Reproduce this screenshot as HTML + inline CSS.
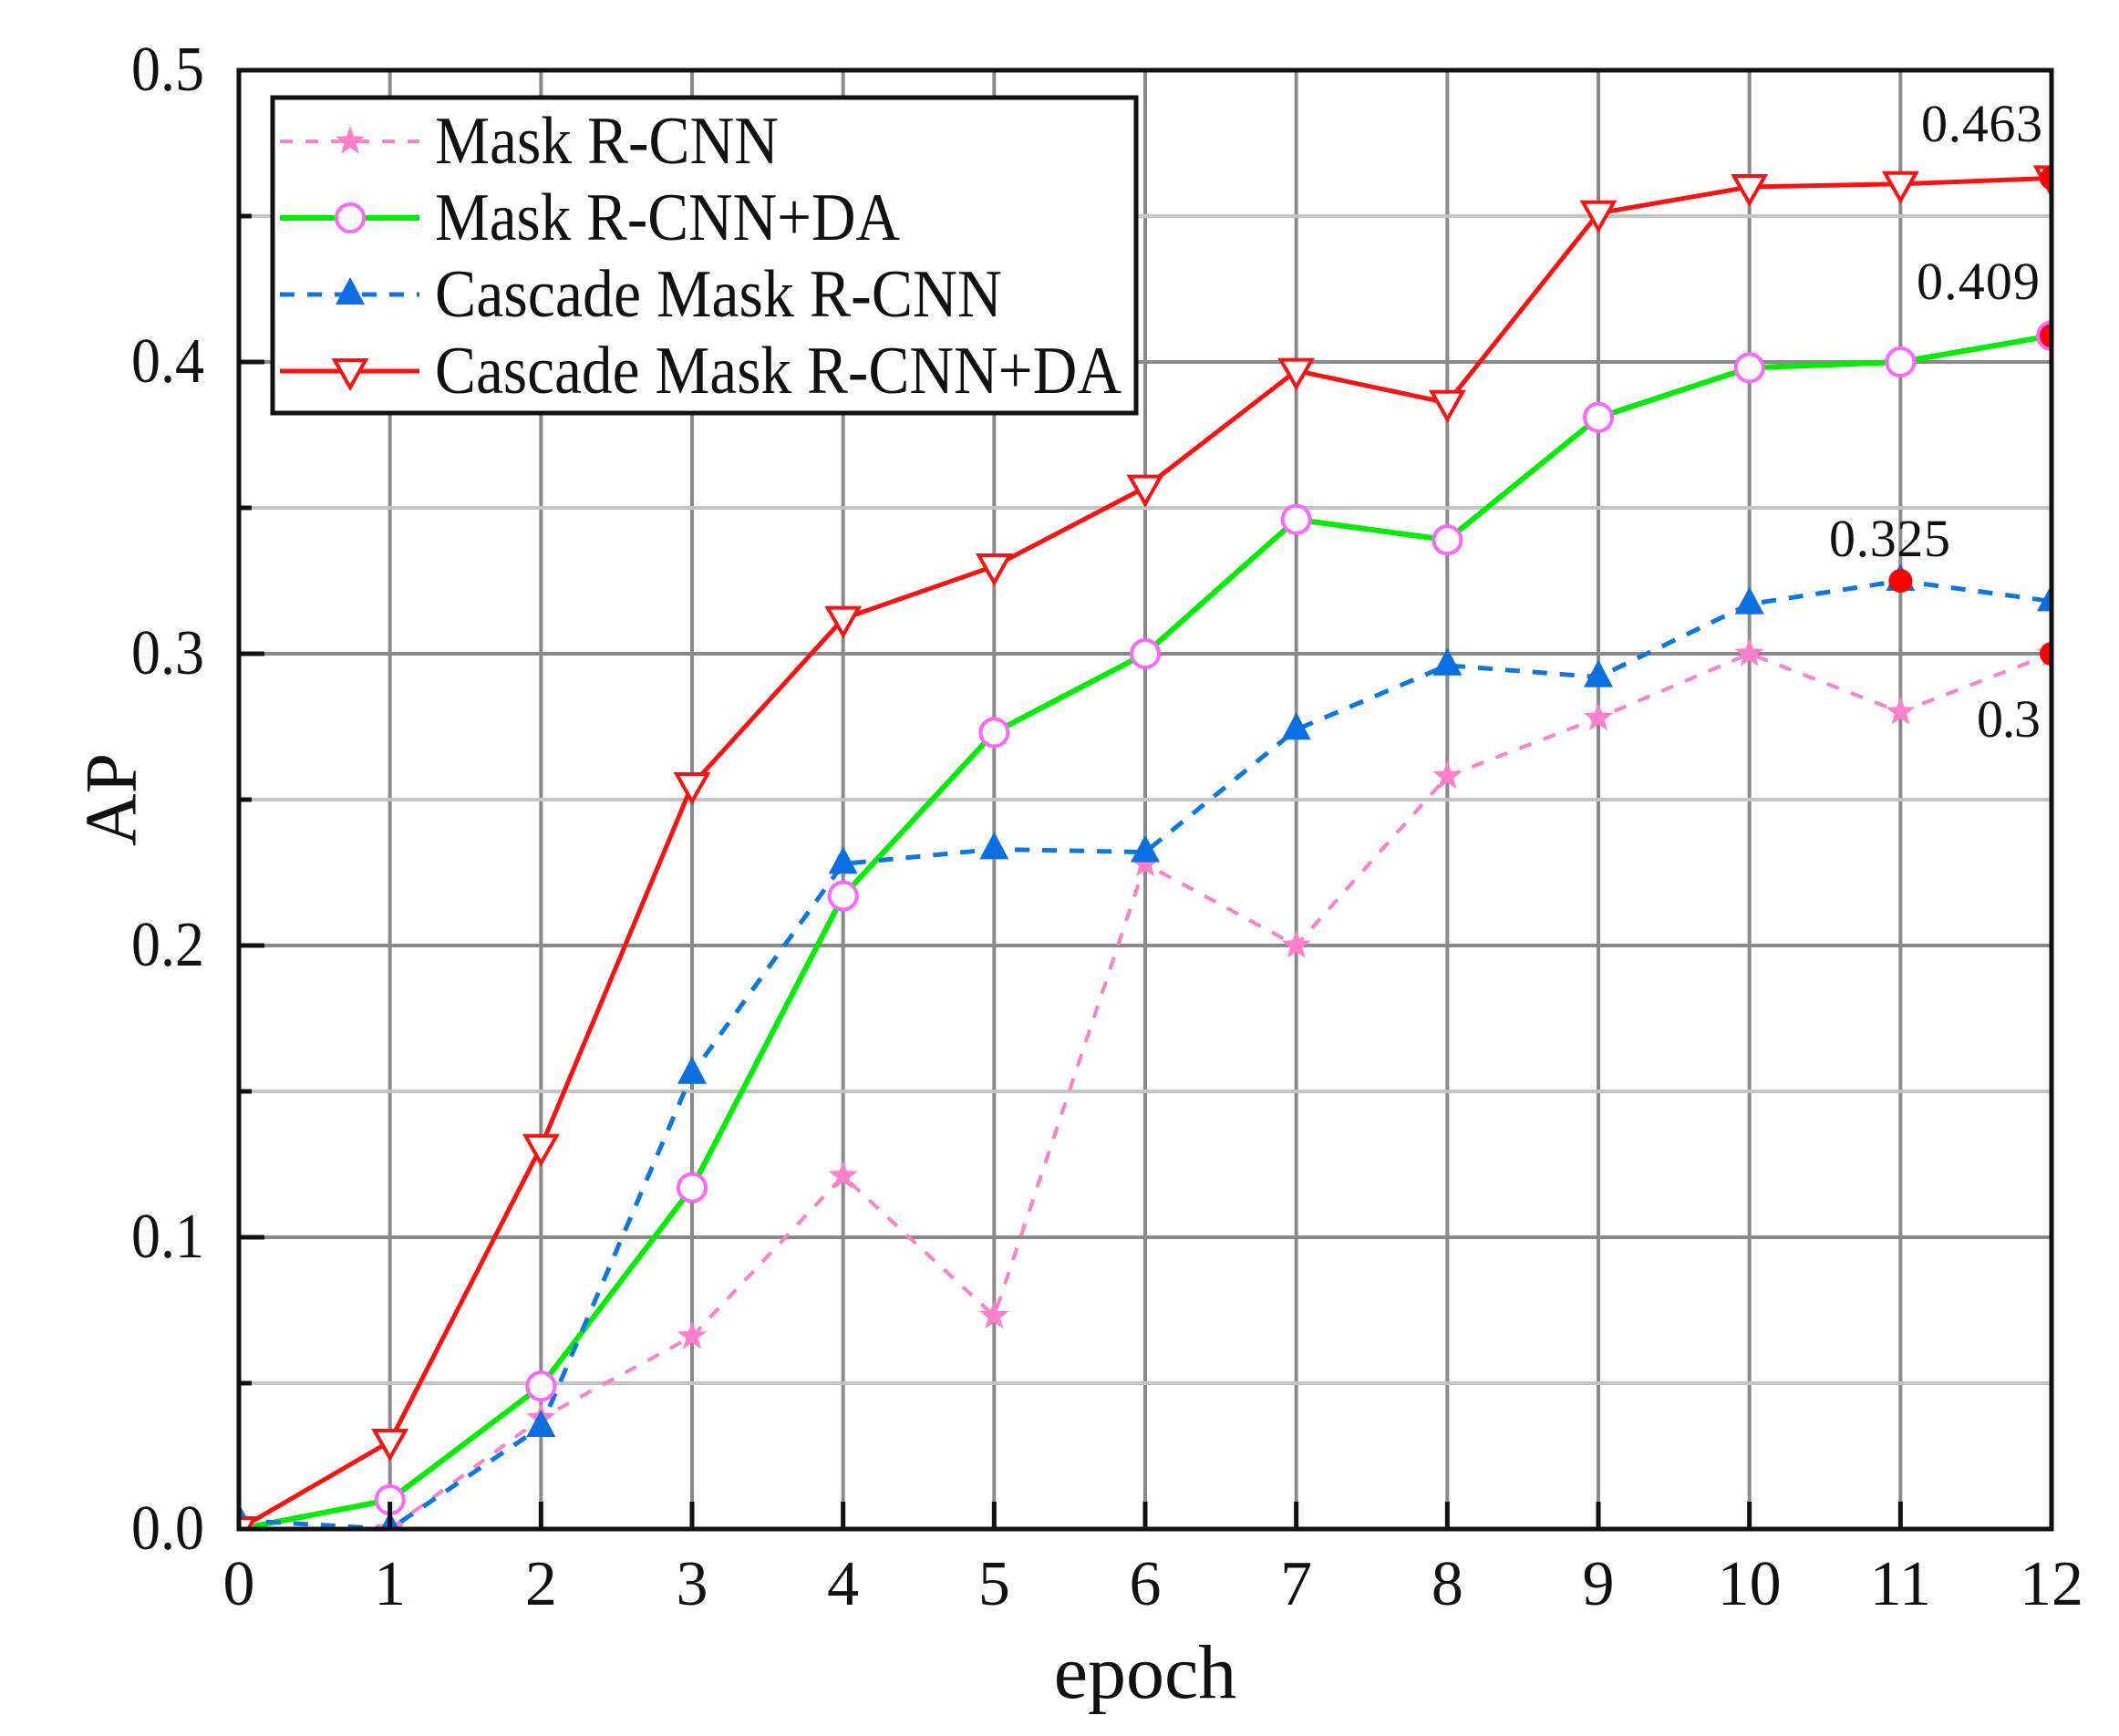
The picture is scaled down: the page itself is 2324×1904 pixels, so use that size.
<!DOCTYPE html>
<html><head><meta charset="utf-8"><style>
html,body{margin:0;padding:0;background:#fff;}
svg{display:block;}
text{font-family:"Liberation Serif",serif;fill:#111;}
</style></head><body>
<svg width="2324" height="1904" viewBox="0 0 2324 1904" xmlns="http://www.w3.org/2000/svg">
<defs>
<clipPath id="pc"><rect x="262" y="77" width="1988" height="1600"/></clipPath>
</defs>
<rect width="2324" height="1904" fill="#fff"/>
<g id="grid" stroke="#8a8a8a" stroke-width="4"></g>
<g id="series" clip-path="url(#pc)"></g>
<g id="legend"></g>
<rect x="262" y="77" width="1988" height="1600" fill="none" stroke="#111" stroke-width="5"/>
<g id="ticks" stroke="#111" stroke-width="5"></g>
<g id="labels" font-size="70"></g>
<text x="130" y="877" font-size="80" text-anchor="middle" transform="rotate(-90 130 877)" dominant-baseline="middle">AP</text>
<text x="1256" y="1862" font-size="84" text-anchor="middle">epoch</text>
<text x="2107" y="155" font-size="58" textLength="133">0.463</text>
<text x="2102" y="328" font-size="58" textLength="135">0.409</text>
<text x="2006" y="610" font-size="58" textLength="133">0.325</text>
<text x="2168" y="808" font-size="58" textLength="70">0.3</text>
<script>
const NS="http://www.w3.org/2000/svg";
const X=e=>262+e*1988/12, Y=v=>1677-v*3200;
function el(p,t,a){const e=document.createElementNS(NS,t);for(const k in a)e.setAttribute(k,a[k]);p.appendChild(e);return e;}
const grid=document.getElementById('grid'),ticks=document.getElementById('ticks'),labels=document.getElementById('labels');
for(let i=1;i<12;i++){el(grid,'line',{x1:X(i),x2:X(i),y1:77,y2:1677});}
for(let j=1;j<10;j++){el(grid,'line',{x1:262,x2:2250,y1:Y(j*0.05),y2:Y(j*0.05),stroke:j%2?'#c4c4c4':'#8a8a8a'});}
for(let i=0;i<=12;i++){el(ticks,'line',{x1:X(i),x2:X(i),y1:1677,y2:1647});
 const t=el(labels,'text',{x:X(i),y:1760,'text-anchor':'middle'});t.textContent=i;}
for(let j=0;j<=10;j++){const w=j%2?14:28;el(ticks,'line',{x1:262,x2:262+w,y1:Y(j*0.05),y2:Y(j*0.05)});
 if(j%2==0){const t=el(labels,'text',{x:224,y:Y(j*0.05)+22,'text-anchor':'end',textLength:80,lengthAdjust:'spacingAndGlyphs'});t.textContent=(j*0.05).toFixed(1);}}
const S=[
 {d:[0,0,0.038,0.066,0.121,0.073,0.228,0.2,0.258,0.278,0.3,0.28,0.3],c:'#ff80c8',dash:'14 14',w:3,m:'star'},
 {d:[0,0.01,0.049,0.117,0.217,0.273,0.3,0.346,0.339,0.381,0.398,0.4,0.409],c:'#00ee00',dash:'',w:5,m:'circ'},
 {d:[0.003,0,0.035,0.156,0.228,0.233,0.232,0.274,0.296,0.292,0.317,0.325,0.318],c:'#0a78e0',dash:'16 14',w:4,m:'tri'},
 {d:[0,0.03,0.131,0.255,0.312,0.33,0.357,0.397,0.386,0.451,0.46,0.461,0.463],c:'#ff1010',dash:'',w:4,m:'dtri'}];
const g=document.getElementById('series');
function marker(p,m,x,y){
 if(m=='star'){let pts=[];for(let k=0;k<10;k++){const r=k%2?7:17,a=-Math.PI/2+k*Math.PI/5;pts.push((x+r*Math.cos(a)).toFixed(1)+','+(y+r*Math.sin(a)).toFixed(1));}
  el(p,'polygon',{points:pts.join(' '),fill:'#ff80c8'});}
 else if(m=='circ')el(p,'circle',{cx:x,cy:y,r:15,fill:'#fff',stroke:'#ff66ff','stroke-width':4});
 else if(m=='tri')el(p,'polygon',{points:`${x},${y-19} ${x-16},${y+11} ${x+16},${y+11}`,fill:'#0a6fe0'});
 else el(p,'polygon',{points:`${x-17},${y-12} ${x+17},${y-12} ${x},${y+18}`,fill:'#fff',stroke:'#ff1010','stroke-width':4});
}
S.forEach(s=>{el(g,'polyline',{points:s.d.map((v,i)=>X(i)+','+Y(v)).join(' '),fill:'none',stroke:s.c,'stroke-width':s.w+1,'stroke-dasharray':s.dash});});
S.forEach(s=>{s.d.forEach((v,i)=>marker(g,s.m,X(i),Y(v)));});
[[12,0.463],[12,0.409],[11,0.325],[12,0.3]].forEach(p=>el(g,'circle',{cx:X(p[0]),cy:Y(p[1]),r:13,fill:'#f00'}));
const lg=document.getElementById('legend');
el(lg,'rect',{x:299,y:107,width:947,height:346,fill:'#fff',stroke:'#111','stroke-width':5});
const names=['Mask R-CNN','Mask R-CNN+DA','Cascade Mask R-CNN','Cascade Mask R-CNN+DA'];
const lens=[377,510,622,753];
const ys=[155,239,323,407];
S.forEach((s,i)=>{el(lg,'line',{x1:307,x2:460,y1:ys[i],y2:ys[i],stroke:s.c,'stroke-width':s.w+1,'stroke-dasharray':s.dash});
 marker(lg,s.m,384,ys[i]);
 const t=el(lg,'text',{x:477,y:ys[i]+24,'font-size':74,textLength:lens[i],lengthAdjust:'spacingAndGlyphs'});t.textContent=names[i];});
</script>
</svg>
</body></html>
